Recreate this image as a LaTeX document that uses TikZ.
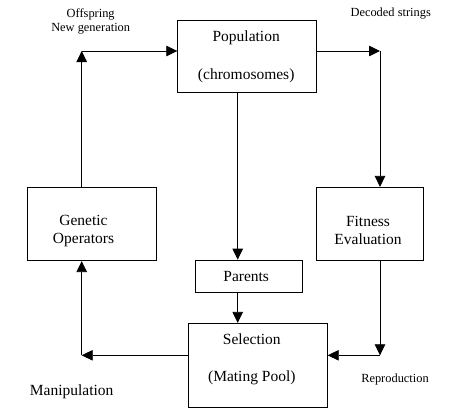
\documentclass[tikz,border=0pt]{standalone}
\usepackage{fontspec}
\setmainfont{Liberation Serif}
\usetikzlibrary{arrows.meta,positioning}
\tikzset{
  box/.style={draw,line width=0.8pt,inner sep=0pt},
  every label/.style={align=center,font=\fontsize{15.5}{18}\selectfont},
  flow/.style={-{Triangle[length=11pt,width=10.5pt]},line width=0.8pt},
  note/.style={align=center,font=\fontsize{12.4}{14}\selectfont}
}
\begin{document}
\begin{tikzpicture}[x=1pt,y=-1pt]
\useasboundingbox (0,0) rectangle (474,415);
% boxes
\node[box,minimum width=139pt,minimum height=72.7pt,
  label={[xshift=-1pt]center:Population\\[20pt](chromosomes)}] (pop) at (247.2,56.4) {};
\node[box,minimum width=128.6pt,minimum height=73.4pt,
  label={[xshift=-8.5pt,yshift=-7pt]center:Genetic\\Operators}] (gen) at (92,224) {};
\node[box,minimum width=106.6pt,minimum height=73.4pt,
  label={[xshift=-2pt,yshift=-6.5pt]center:Fitness\\Evaluation}] (fit) at (370,224) {};
\node[box,minimum width=107.3pt,minimum height=32.7pt,
  label={[xshift=-2.5pt]center:Parents}] (par) at (248.7,276.4) {};
\node[box,minimum width=139pt,minimum height=84.4pt,
  label={[xshift=-6pt,yshift=6.5pt]center:Selection\\[19pt](Mating Pool)}] (sel) at (257.8,365.5) {};
% corners
\coordinate (tl) at (81.7,51);
\coordinate (tr) at (380,51);
\coordinate (br) at (380,355.3);
\coordinate (bl) at (81.7,355.3);
\coordinate (mid) at (237.7,0);
% arrows
\draw[flow] (tl |- gen.north) -- (tl);
\draw[flow] (tl) -- (tl -| pop.west);
\draw[flow] (tr -| pop.east) -- (tr);
\draw[flow] (tr) -- (tr |- fit.north);
\draw[flow] (tr |- fit.south) -- (br);
\draw[flow] (br) -- (br -| sel.east);
\draw[flow] (bl -| sel.west) -- (bl);
\draw[flow] (bl) -- (bl |- gen.south);
\draw[flow] (mid |- pop.south) -- (mid |- par.north);
\draw[flow] (mid |- par.south) -- (mid |- sel.north);
% labels
\node[note] (offs) at (90.7,21) {Offspring\\New generation};
\node[note] (dec) at (390.7,14) {Decoded strings};
\node[note] (rep) at (395,380) {Reproduction};
\node[note,font=\fontsize{15.5}{18}\selectfont] (man) at (71.7,392) {Manipulation};
\end{tikzpicture}
\end{document}
